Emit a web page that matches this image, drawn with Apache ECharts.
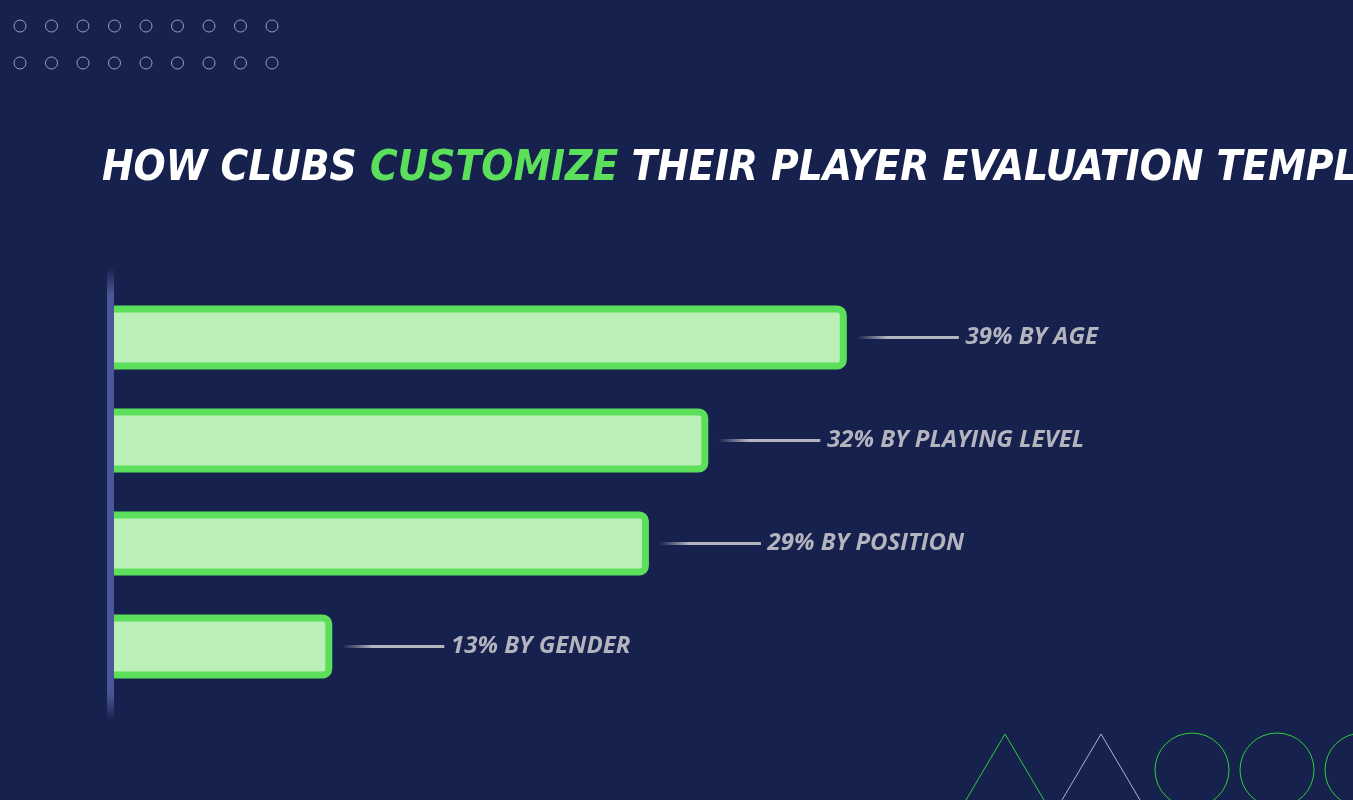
<!DOCTYPE html>
<html><head><meta charset="utf-8">
<script src="https://cdn.jsdelivr.net/npm/echarts@6/dist/echarts.min.js"></script>
<style>html,body{margin:0;background:#16214d}#c{width:1353px;height:800px}</style>
</head><body><div id="c"></div>
<script>
const categories = ['BY AGE','BY PLAYING LEVEL','BY POSITION','BY GENDER'];
const values = [39,32,29,13];
const chart = echarts.init(document.getElementById('c'));
const g = [];
for (let r=0;r<2;r++) for (let i=0;i<9;i++) g.push({type:'circle',shape:{cx:20+i*31.5,cy:26+r*37,r:6},style:{fill:'none',stroke:'#9aa0b8',lineWidth:1}});
g.push({type:'polyline',shape:{points:[[966,800],[1005,734],[1044,800]]},style:{fill:'none',stroke:'#2ecc40',lineWidth:1}});
g.push({type:'polyline',shape:{points:[[1062,800],[1101,734],[1140,800]]},style:{fill:'none',stroke:'#b0b4c4',lineWidth:1}});
[1192,1277,1362].forEach(x=>g.push({type:'circle',shape:{cx:x,cy:770,r:37},style:{fill:'none',stroke:'#2ecc40',lineWidth:1}}));
g.push({type:'text',left:102,top:148,style:{text:'{w|HOW CLUBS }{g|CUSTOMIZE}{w| THEIR PLAYER EVALUATION TEMPLATES:}',rich:{
 w:{fill:'#ffffff',font:'italic bold 42px "DejaVu Sans Condensed"'},
 g:{fill:'#5ce05c',font:'italic bold 42px "DejaVu Sans Condensed"'}}}});
g.push({type:'rect',z:10,shape:{x:75,y:270,width:33,height:450},style:{fill:'#16214d'}});
g.push({type:'rect',z:11,shape:{x:107,y:268,width:7,height:452},style:{fill:{type:'linear',x:0,y:0,x2:0,y2:1,colorStops:[{offset:0,color:'rgba(80,95,160,0)'},{offset:0.06,color:'#4a5794'},{offset:0.94,color:'#4a5794'},{offset:1,color:'rgba(80,95,160,0)'}]}}});
chart.setOption({
 backgroundColor:'#16214d',
 graphic:g,
 grid:{left:75,right:1353-1300,top:286,bottom:102},
 xAxis:{type:'value',min:0,max:61.9,show:false},
 yAxis:{type:'category',data:categories,inverse:true,show:false},
 series:[{type:'bar',data:values,barWidth:64,
  itemStyle:{color:'#bbefb8',borderColor:'#5ce05c',borderWidth:7,borderRadius:6},
  label:{show:true,position:'right',distance:10,
   formatter:p=>'{l|}  {t|'+p.value+'% '+p.name+'}',
   rich:{l:{width:102,height:3,backgroundColor:{type:'linear',x:0,y:0,x2:1,y2:0,colorStops:[{offset:0,color:'rgba(180,180,190,0)'},{offset:0.3,color:'#b4b4be'},{offset:1,color:'#b4b4be'}]}},
   t:{color:'#b4b4be',fontSize:24,fontWeight:'bold',fontStyle:'italic',fontFamily:'"Open Sans"'}}}
 }]
});
</script></body></html>
